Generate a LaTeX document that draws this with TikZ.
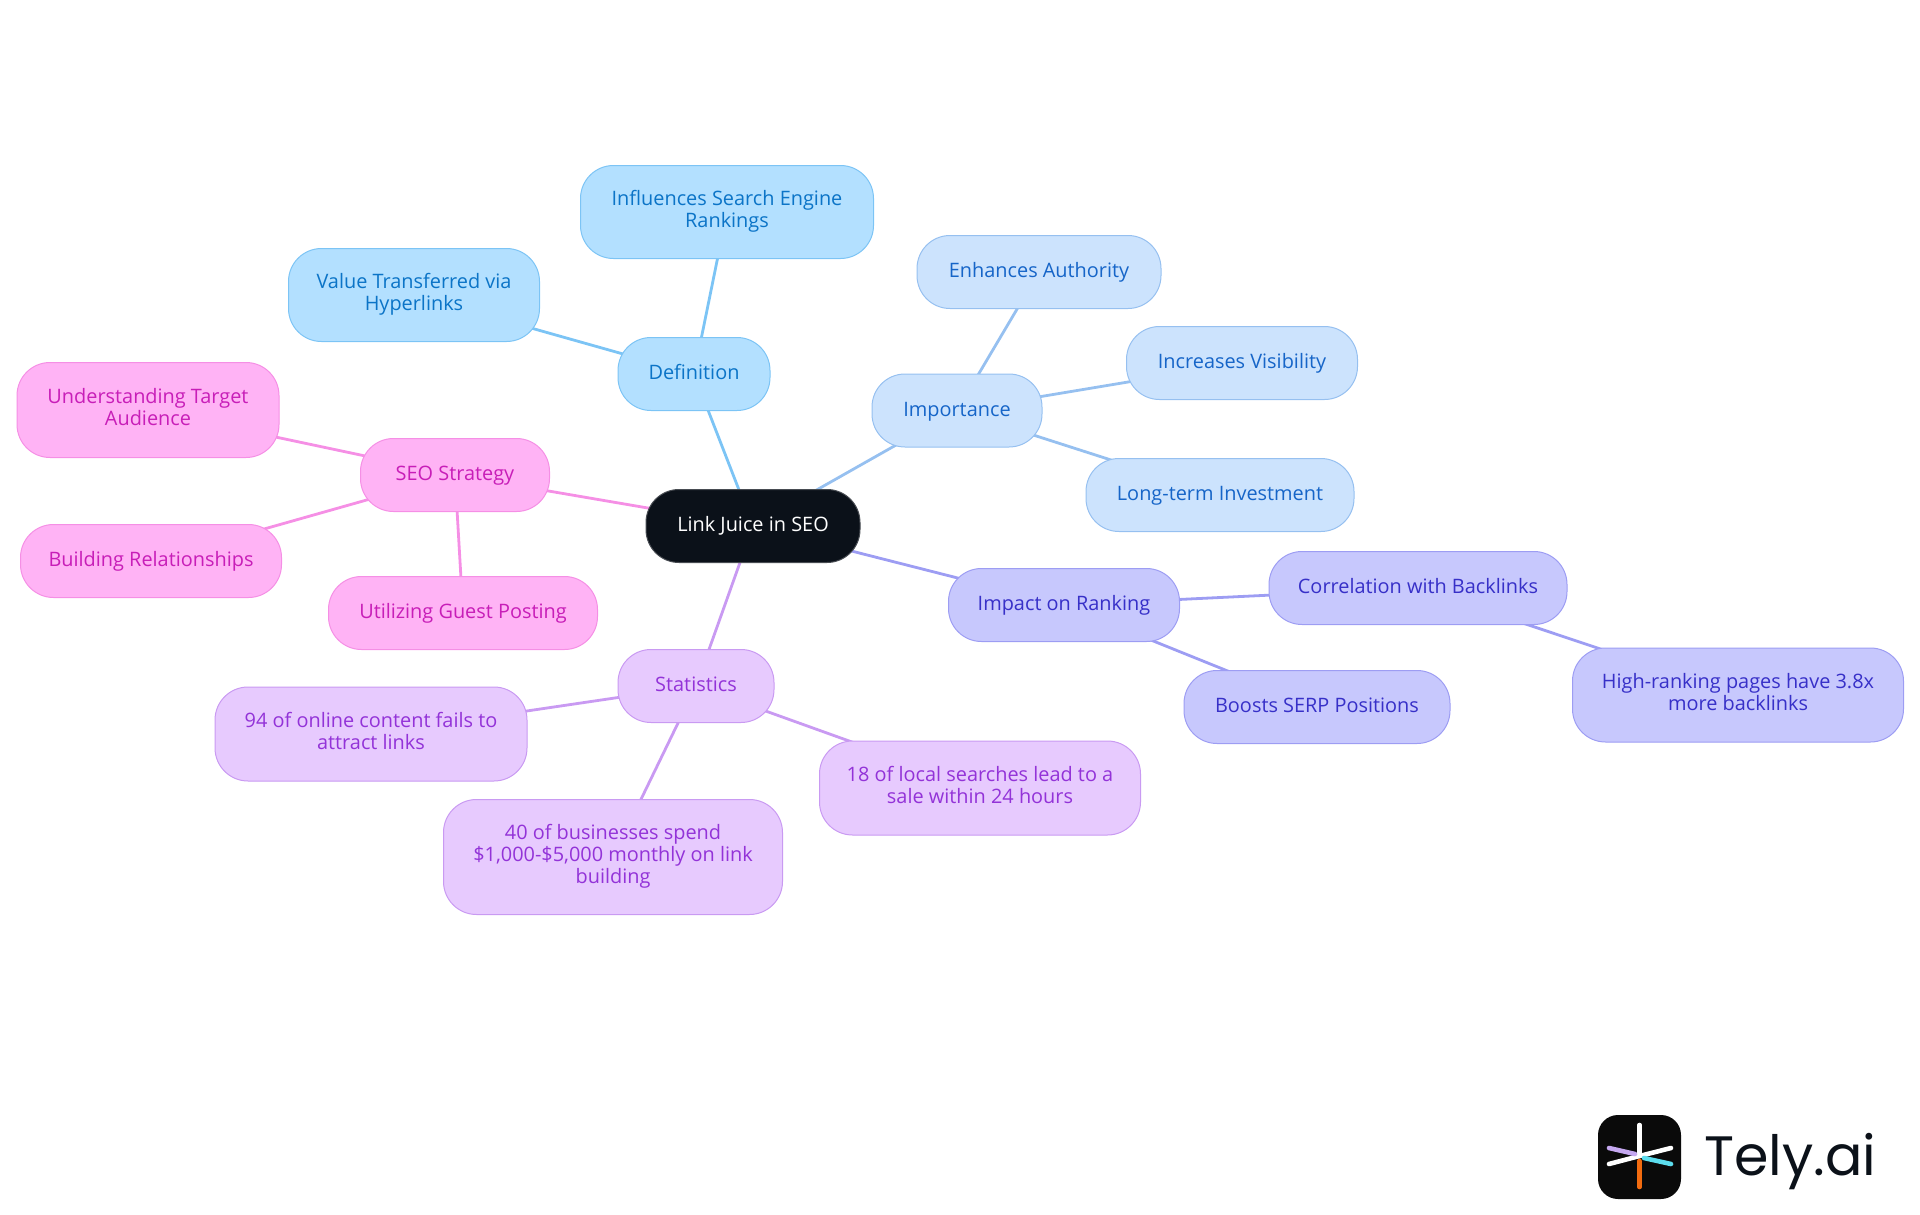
\documentclass[tikz,border=0pt]{standalone}
\usepackage{fontspec}
\setmainfont{Open Sans}
\newfontfamily\logofont{Poppins}
\usetikzlibrary{backgrounds}
\definecolor{cDefF}{HTML}{B3E0FF}\definecolor{cDefS}{HTML}{7CC4F5}\definecolor{cDefT}{HTML}{0B74C7}
\definecolor{cImpF}{HTML}{CCE3FD}\definecolor{cImpS}{HTML}{96C0F0}\definecolor{cImpT}{HTML}{1665C8}
\definecolor{cRanF}{HTML}{C7C8FD}\definecolor{cRanS}{HTML}{9D9DF3}\definecolor{cRanT}{HTML}{3730C8}
\definecolor{cStaF}{HTML}{E7CAFE}\definecolor{cStaS}{HTML}{C99AF2}\definecolor{cStaT}{HTML}{9333D8}
\definecolor{cSeoF}{HTML}{FFB3F5}\definecolor{cSeoS}{HTML}{F58FE5}\definecolor{cSeoT}{HTML}{C81EB8}
\definecolor{cDark}{HTML}{0B1119}
\definecolor{cLogoV}{HTML}{C5A8F0}\definecolor{cLogoC}{HTML}{5CDDEE}\definecolor{cLogoO}{HTML}{F26B0F}
\newcommand{\nstrut}{\rule[-6.5pt]{0pt}{24pt}}
\newcommand{\mstrut}{\rule{0pt}{20.5pt}}
\tikzset{
  box/.style={rectangle,rounded corners=33pt,line width=1pt,inner sep=0pt,align=center,
    minimum height=73pt,font=\fontsize{19.9}{21.8}\selectfont,
    execute at begin node=\nstrut,execute at end node=\nstrut},
  multi/.style={execute at begin node=\mstrut},
  rootbox/.style={box,fill=cDark,draw=cDark!75!white,text=white},
  defbox/.style={box,fill=cDefF,draw=cDefS,text=cDefT},
  impbox/.style={box,fill=cImpF,draw=cImpS,text=cImpT},
  ranbox/.style={box,fill=cRanF,draw=cRanS,text=cRanT},
  stabox/.style={box,fill=cStaF,draw=cStaS,text=cStaT},
  seobox/.style={box,fill=cSeoF,draw=cSeoS,text=cSeoT},
  link/.style={line width=2.8pt},
  spoke/.style={line width=4.6pt,line cap=round},
}
\begin{document}
\begin{tikzpicture}[x=1pt,y=-1pt]
\useasboundingbox (0,0) rectangle (1920,1215);
\node[rootbox,minimum width=214pt] (root) at (753,526) {Link Juice in SEO};
\node[defbox,minimum width=152pt] (def) at (694,374) {Definition};
\node[defbox,multi,minimum width=293pt,minimum height=93pt] (infl) at (727,212) {Influences Search Engine\\Rankings};
\node[defbox,multi,minimum width=251pt,minimum height=93pt] (val) at (414,295) {Value Transferred via\\Hyperlinks};
\node[impbox,minimum width=170pt] (imp) at (957,410.5) {Importance};
\node[impbox,minimum width=244pt] (enh) at (1039,272) {Enhances Authority};
\node[impbox,minimum width=231pt] (inc) at (1242,363) {Increases Visibility};
\node[impbox,minimum width=268pt] (lon) at (1220,495) {Long-term Investment};
\node[ranbox,minimum width=231pt] (ran) at (1064,605) {Impact on Ranking};
\node[ranbox,minimum width=298pt] (cor) at (1418,588) {Correlation with Backlinks};
\node[ranbox,multi,minimum width=331pt,minimum height=94pt] (hig) at (1738,695) {High-ranking pages have 3.8x\\more backlinks};
\node[ranbox,minimum width=266pt] (boo) at (1317,707) {Boosts SERP Positions};
\node[stabox,minimum width=156pt] (sta) at (696,686) {Statistics};
\node[stabox,multi,minimum width=312pt,minimum height=94pt] (s94) at (371,734) {94 of online content fails to\\attract links};
\node[stabox,multi,minimum width=339pt,minimum height=115pt] (s40) at (613,857) {40 of businesses spend\\\$1,000-\$5,000 monthly on link\\building};
\node[stabox,multi,minimum width=321pt,minimum height=94pt] (s18) at (980,788) {18 of local searches lead to a\\sale within 24 hours};
\node[seobox,minimum width=189pt] (seo) at (455,475) {SEO Strategy};
\node[seobox,multi,minimum width=262pt,minimum height=95pt] (und) at (148,410) {Understanding Target\\Audience};
\node[seobox,minimum width=261pt] (bui) at (151,561) {Building Relationships};
\node[seobox,minimum width=269pt] (gue) at (463,613) {Utilizing Guest Posting};
\begin{scope}[on background layer]
\draw[link,cDefS] (root.center)--(def.center);
\draw[link,cDefS] (def.center)--(infl.center);
\draw[link,cDefS] (def.center)--(val.center);
\draw[link,cImpS] (root.center)--(imp.center);
\draw[link,cImpS] (imp.center)--(enh.center);
\draw[link,cImpS] (imp.center)--(inc.center);
\draw[link,cImpS] (imp.center)--(lon.center);
\draw[link,cRanS] (root.center)--(ran.center);
\draw[link,cRanS] (ran.center)--(cor.center);
\draw[link,cRanS] (cor.center)--(hig.center);
\draw[link,cRanS] (ran.center)--(boo.center);
\draw[link,cStaS] (root.center)--(sta.center);
\draw[link,cStaS] (sta.center)--(s94.center);
\draw[link,cStaS] (sta.center)--(s40.center);
\draw[link,cStaS] (sta.center)--(s18.center);
\draw[link,cSeoS] (root.center)--(seo.center);
\draw[link,cSeoS] (seo.center)--(und.center);
\draw[link,cSeoS] (seo.center)--(bui.center);
\draw[link,cSeoS] (seo.center)--(gue.center);
\end{scope}
% logo
\fill[black!96,rounded corners=20pt] (1598,1115) rectangle (1681,1199);
\draw[spoke,white] (1639.5,1156)--(1639.5,1125);
\draw[spoke,white] (1639.5,1156)--(1671,1148);
\draw[spoke,white] (1639.5,1156)--(1609,1164);
\draw[spoke,cLogoC] (1644,1158)--(1671,1164);
\draw[spoke,cLogoV] (1635,1154)--(1609,1148);
\draw[spoke,cLogoO] (1639.5,1161)--(1639.5,1187);
\node[anchor=west,inner sep=0pt,text=cDark,font=\logofont\fontsize{55.5}{56}\selectfont] (brand) at (1704,1162) {Tely.ai};
\end{tikzpicture}
\end{document}
